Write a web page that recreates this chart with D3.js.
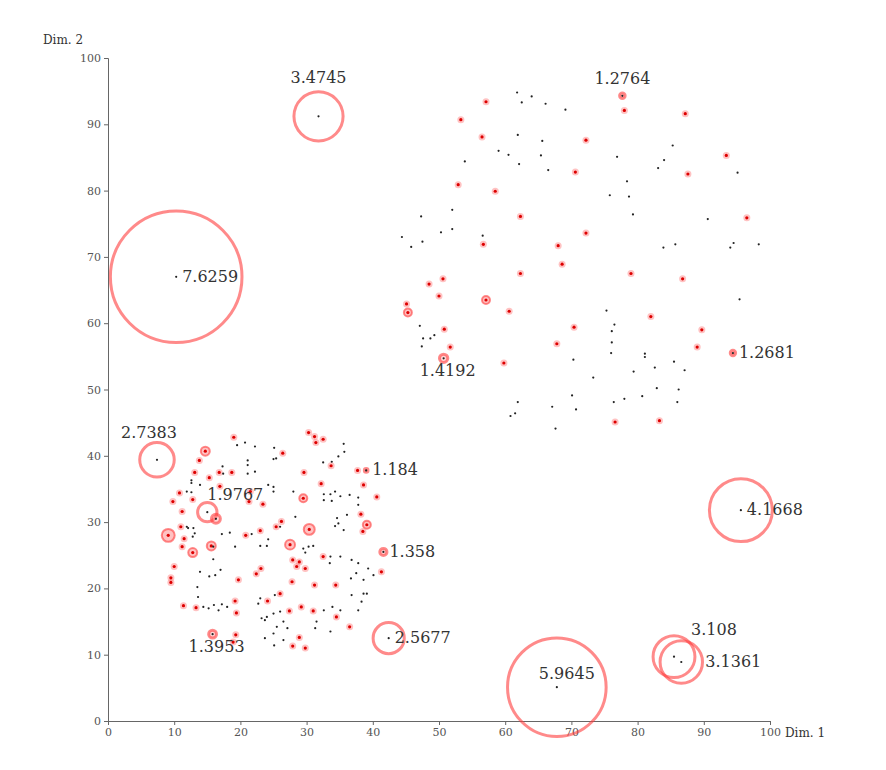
<!DOCTYPE html>
<html><head><meta charset="utf-8">
<script src="https://cdn.jsdelivr.net/npm/d3@7"></script>
<style>body{margin:0;background:#fff}text{font-family:"DejaVu Serif",serif}</style>
</head><body><div id="chart"></div>
<script>
// inliers (LOF <= 1)
const blackX = [19.5,20.7,22.2,25.1,25.4,25.0,21.1,21.1,21.1,22.2,17.3,17.4,12.6,12.6,13.9,11.9,12.6,24.2,25.0,25.0,28.0,35.6,35.7,34.8,32.5,33.8,32.6,33.6,34.3,32.6,33.8,35.1,36.5,37.8,37.8,36.1,34.6,34.3,35.6,34.8,28.3,26.0,17.2,18.4,13.1,12.8,12.1,12.9,15.9,19.2,21.7,23.0,24.0,24.2,29.5,30.3,31.0,29.8,33.6,33.5,35.1,36.8,37.8,39.3,40.1,37.5,36.7,38.6,13.9,15.9,15.3,16.2,17.0,13.5,13.6,14.4,15.2,16.0,16.7,17.2,18.0,23.0,22.7,25.2,26.0,25.0,24.0,23.7,26.5,25.5,27.1,31.5,33.6,25.0,23.7,26.5,25.1,31.3,32.6,33.9,35.1,36.8,38.6,39.1,38.3,37.8,23.2,11.9,
  61.8,62.5,64.0,66.1,69.1,61.9,65.6,59.0,60.5,65.4,62.1,66.5,53.9,76.9,85.3,84.0,83.1,95.1,78.4,75.8,78.7,79.3,90.6,52.0,47.3,44.4,45.8,47.5,50.3,52.0,56.6,83.9,85.7,94.0,94.5,98.3,95.4,75.3,76.5,76.1,76.1,76.0,81.1,81.1,47.1,47.6,48.7,49.3,47.4,70.3,73.3,79.4,82.6,85.5,87.1,70.1,70.7,67.1,61.9,61.5,60.8,67.6,76.4,78.0,80.7,82.9,86.2,86.0];
const blackY = [41.6,42.0,41.4,41.2,39.6,39.5,39.3,38.6,37.3,37.6,38.4,37.3,36.3,35.9,35.6,34.6,34.5,35.6,35.3,34.6,34.6,41.8,40.6,39.9,39.0,39.1,34.2,34.2,34.6,33.3,33.2,33.9,34.1,33.7,32.6,31.1,30.6,29.4,28.8,29.8,30.8,29.3,28.2,28.4,28.3,27.8,29.1,29.1,26.3,26.3,28.2,26.4,26.4,27.4,26.0,26.3,26.4,25.4,24.8,23.8,24.8,24.3,23.8,23.0,22.0,22.3,21.5,21.3,22.5,24.4,21.8,22.0,22.8,20.2,18.7,17.2,17.0,17.5,16.7,17.6,17.2,18.5,17.7,19.0,16.5,16.2,15.7,15.2,15.0,14.2,14.0,15.0,13.5,13.2,12.5,12.2,11.4,14.0,16.7,17.2,16.7,19.0,19.2,19.2,18.0,16.7,15.5,29.3,
  94.8,93.3,94.2,93.1,92.2,88.4,87.5,86.0,85.4,85.3,84.0,83.1,84.4,85.1,86.8,84.6,83.4,82.7,81.4,79.3,79.1,76.4,75.7,77.1,76.1,73.0,71.5,72.3,73.7,74.2,73.2,71.4,71.9,71.4,72.1,71.9,63.6,61.9,59.8,58.8,57.1,55.5,55.4,54.9,59.6,57.7,57.7,58.2,56.5,54.5,51.8,52.7,53.3,54.2,52.9,49.1,47.0,47.4,48.1,46.4,46.0,44.1,48.1,48.6,49.0,50.2,50.0,48.1];

// points with LOF slightly above 1
const redX = [19.0,14.7,13.8,13.1,16.8,18.7,15.3,16.9,10.8,12.8,9.8,11.2,11.0,11.5,11.2,15.6,12.8,9.1,10.0,9.5,9.5,11.4,13.3,19.7,19.2,19.4,19.3,18.9,21.3,23.4,20.8,23.0,25.4,26.2,23.1,22.4,27.5,27.9,28.9,28.5,29.8,27.8,31.2,29.6,30.3,31.2,31.4,32.5,26.4,32.2,29.5,30.4,33.7,34.4,32.5,26.0,24.1,27.4,29.2,31.0,34.5,36.5,27.9,29.8,28.9,37.7,38.6,40.6,38.2,39.1,38.5,41.3,21.5,
  57.1,53.3,56.5,72.2,78.0,87.2,70.6,93.4,87.6,52.9,58.5,62.3,96.5,72.2,56.7,68.0,68.6,62.3,79.0,86.8,50.6,48.5,50.0,57.1,45.1,45.3,60.6,82.0,70.4,50.8,89.7,51.7,67.8,89.0,59.8,76.6,83.3];
const redY = [42.8,40.7,39.3,37.5,37.5,37.5,36.7,35.4,34.4,33.4,33.1,31.6,29.3,27.5,26.3,26.4,25.4,28.0,23.3,21.6,20.9,17.4,17.1,21.3,18.1,16.3,13.0,11.9,33.1,32.7,28.0,28.7,29.3,30.1,23.0,22.2,26.6,24.3,24.0,23.3,23.0,21.0,20.5,37.5,43.5,42.9,42.0,42.5,40.4,35.8,33.6,28.9,38.5,20.5,24.8,19.2,18.1,16.6,17.2,16.6,15.7,14.2,11.3,11.0,12.6,37.8,35.6,33.8,31.2,29.6,28.6,22.5,34.6,
  93.4,90.7,88.1,87.6,92.1,91.6,82.8,85.3,82.5,80.9,79.9,76.1,75.9,73.6,71.9,71.7,68.9,67.5,67.5,66.7,66.7,65.9,64.1,63.5,62.9,61.6,61.8,61.0,59.4,59.1,59.0,56.4,56.9,56.4,54.0,45.1,45.3];
const redLof = [1.1,1.25,1.15,1.05,1.1,1.1,1.05,1.1,1.1,1.05,1.1,1.12,1.1,1.05,1.1,1.25,1.25,1.45,1.08,1.1,1.1,1.1,1.05,1.08,1.05,1.1,1.15,1.12,1.05,1.05,1.05,1.05,1.05,1.1,1.1,1.1,1.3,1.1,1.1,1.1,1.12,1.1,1.15,1.12,1.05,1.1,1.08,1.08,1.05,1.12,1.2,1.35,1.05,1.1,1.05,1.05,1.05,1.05,1.1,1.08,1.05,1.05,1.05,1.05,1.05,1.1,1.1,1.1,1.08,1.2,1.15,1.05,1.05,
  1.05,1.1,1.05,1.1,1.15,1.05,1.05,1.05,1.05,1.05,1.1,1.1,1.05,1.1,1.05,1.05,1.1,1.05,1.05,1.05,1.05,1.05,1.12,1.2,1.1,1.2,1.05,1.1,1.05,1.1,1.1,1.1,1.12,1.05,1.12,1.05,1.05];

// labelled outliers
const outX = [31.8,10.3,7.4,15.0,16.3,39.0,41.6,42.4,67.8,95.6,85.5,86.6,15.8,50.7,94.4,77.7];
const outY = [91.2,67.0,39.4,31.5,30.5,37.8,25.5,12.5,5.1,31.8,9.7,8.9,13.1,54.7,55.5,94.3];
const outLof = [3.4745,7.6259,2.7383,1.9767,1.45,1.184,1.358,2.5677,5.9645,4.1668,3.108,3.1361,1.3953,1.4192,1.2681,1.2764];
const outLabel = ["3.4745","7.6259","2.7383","1.9767","","1.184","1.358","2.5677","5.9645","4.1668","3.108","3.1361","1.3953","1.4192","1.2681","1.2764"];
const outAnchor = ["above","right","aboveleft","upright","none","right","right","right","near","right","aboveright","farright","below","below","right","above"];

const ticks = d3.range(0, 101, 10);

const width = 886, height = 770;
const svg = d3.select("#chart").append("svg").attr("width", width).attr("height", height);
const x = d3.scaleLinear().domain([0, 100]).range([108, 770]);
const y = d3.scaleLinear().domain([0, 100]).range([721, 58]);
const k = x(1) - x(0);

const axisColor = "#666";
svg.append("g").attr("transform", "translate(0,721)")
    .call(d3.axisBottom(x).tickValues(ticks).tickSize(4))
    .call(g => g.selectAll("path,line").attr("stroke", axisColor))
    .call(g => g.selectAll("text").attr("fill", "#555").attr("font-size", 11).attr("font-family", "DejaVu Serif"));
svg.append("g").attr("transform", "translate(108,0)")
    .call(d3.axisLeft(y).tickValues(ticks).tickSize(4))
    .call(g => g.selectAll("path,line").attr("stroke", axisColor))
    .call(g => g.selectAll("text").attr("fill", "#555").attr("font-size", 11).attr("font-family", "DejaVu Serif"));
svg.append("text").attr("x", 43).attr("y", 44).attr("font-size", 12).attr("fill", "#333").text("Dim. 2");
svg.append("text").attr("x", 785).attr("y", 737).attr("font-size", 12).attr("fill", "#333").text("Dim. 1");

const ring = "rgba(255,60,60,0.6)";
const blacks = blackX.map((v, i) => ({x: v, y: blackY[i]}));
const reds = redX.map((v, i) => ({x: v, y: redY[i], lof: redLof[i]}));
const outs = outX.map((v, i) => ({x: v, y: outY[i], lof: outLof[i], label: outLabel[i], anchor: outAnchor[i]}));

svg.append("g").selectAll("circle").data(reds).join("circle")
    .attr("cx", d => x(d.x)).attr("cy", d => y(d.y))
    .attr("r", d => Math.max(3.5, k * 1.5 * (d.lof - 1) + 2))
    .attr("fill", "rgba(255,120,120,0.45)")
    .attr("stroke", d => d.lof >= 1.2 ? ring : "none").attr("stroke-width", 2);
svg.append("g").selectAll("circle").data(reds).join("circle")
    .attr("cx", d => x(d.x)).attr("cy", d => y(d.y)).attr("r", 1.6).attr("fill", "#d00");

svg.append("g").selectAll("circle").data(outs).join("circle")
    .attr("cx", d => x(d.x)).attr("cy", d => y(d.y))
    .attr("r", d => k * 1.5 * (d.lof - 1))
    .attr("fill", d => d.lof < 1.6 ? "rgba(255,120,120,0.3)" : "none")
    .attr("stroke", ring).attr("stroke-width", 3);

svg.append("g").selectAll("circle").data(blacks.concat(outs)).join("circle")
    .attr("cx", d => x(d.x)).attr("cy", d => y(d.y)).attr("r", 1.1).attr("fill", "#222");

const off = {
    above: d => [0, -k * 1.5 * (d.lof - 1) - 9, "middle"],
    below: d => [4, 18, "middle"],
    right: d => [6, 5, "start"],
    farright: d => [24, 5, "start"],
    upright: d => [0, -12, "start"],
    near: d => [10, -8, "middle"],
    aboveleft: d => [-8, -22, "middle"],
    aboveright: d => [40, -22, "middle"],
    none: d => [0, 0, "start"]
};
svg.append("g").selectAll("text").data(outs).join("text")
    .attr("x", d => x(d.x) + off[d.anchor](d)[0])
    .attr("y", d => y(d.y) + off[d.anchor](d)[1])
    .attr("text-anchor", d => off[d.anchor](d)[2])
    .attr("font-size", 16).attr("fill", "#333")
    .text(d => d.label);
</script></body></html>
